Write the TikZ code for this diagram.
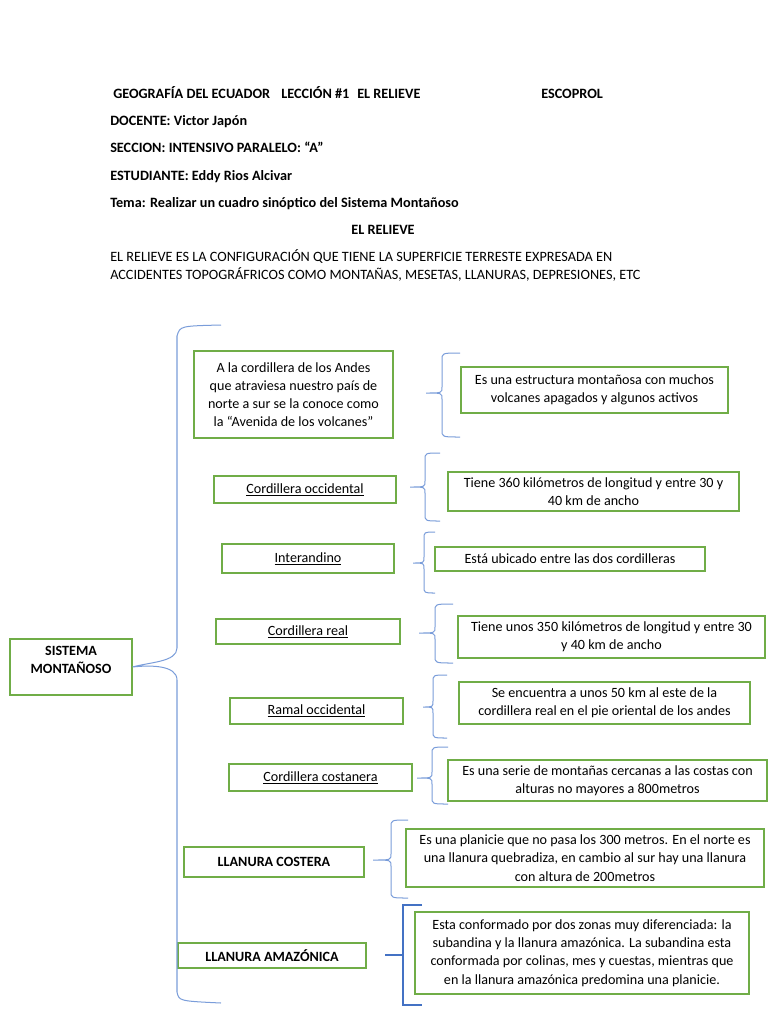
\documentclass[tikz,border=0pt]{standalone}
\usepackage{fontspec}
\setmainfont{Carlito}
\definecolor{boxgreen}{HTML}{70AD47}
\definecolor{braceblue}{HTML}{7A9DDA}
\definecolor{sqblue}{HTML}{4472C4}
\newcommand\mybox[7]{%
  \node[gb,#1,minimum width={(#5-#3)*0.797pt},minimum height={(#6-#4)*0.797pt}] (#2) at ({(#3+#5)/2},{(#4+#6)/2}) {#7};}
\newcommand\mybrace[7]{% name tx ty vx yt yb ex
  \coordinate (#1tip) at (#2,#3);
  \coordinate (#1top) at (#7,#5);
  \coordinate (#1bot) at (#7,#6);
  \draw[br] (#1top) .. controls (#4,#5) .. (#4,{#5+7}) -- (#4,{#3-6}) .. controls (#4,#3) .. (#1tip)
     .. controls (#4,#3) .. (#4,{#3+6}) -- (#4,{#6-7}) .. controls (#4,#6) .. (#1bot);}
\begin{document}
\begin{tikzpicture}[x=0.797pt,y=-0.797pt,
  gb/.style={draw=boxgreen,line width=0.9pt,inner sep=0pt,align=center,font=\fontsize{11.25}{14.5}\selectfont},
  gbt/.style={line width=1.5pt},
  bf/.style={font=\fontsize{11.25}{14.5}\selectfont\bfseries},
  br/.style={draw=braceblue,line width=0.8pt},
  sq/.style={draw=sqblue,line width=1pt},
  hd/.style={anchor=base west,inner sep=0pt,font=\fontsize{11.35}{14}\selectfont\bfseries},
  pr/.style={anchor=base west,inner sep=0pt,font=\fontsize{11.35}{14}\selectfont}]
\useasboundingbox (0,0) rectangle (768,1024);
\fill[white] (0,0) rectangle (768,1024);

% header
\node[hd] (h1) at (113,98) {GEOGRAFÍA DEL ECUADOR};
\node[hd] (h2) at (281,98) {LECCIÓN \#1};
\node[hd] (h3) at (357,98) {EL RELIEVE};
\node[hd] (h4) at (541,98) {ESCOPROL};
\node[hd] (h5) at (110,125) {DOCENTE: Victor Japón};
\node[hd] (h6) at (110,152) {SECCION: INTENSIVO PARALELO: “A”};
\node[hd] (h7) at (110,180) {ESTUDIANTE: Eddy Rios Alcivar};
\node[hd] (h8) at (110,207) {Tema: Realizar un cuadro sinóptico del Sistema Montañoso};
\node[hd,anchor=base] (h9) at (383,234) {EL RELIEVE};
\node[pr] (p1) at (110,261) {EL RELIEVE ES LA CONFIGURACIÓN QUE TIENE LA SUPERFICIE TERRESTE EXPRESADA EN};
\node[pr] (p2) at (110,279) {ACCIDENTES TOPOGRÁFRICOS COMO MONTAÑAS, MESETAS, LLANURAS, DEPRESIONES, ETC};

% root
\mybox{bf,text depth=12pt}{S}{10}{639}{132}{695}{SISTEMA\\MONTAÑOSO}

% left boxes
\mybox{gbt}{A}{194}{351}{393}{438}{A la cordillera de los Andes\\que atraviesa nuestro país de\\norte a sur se la conoce como\\la “Avenida de los volcanes”}
\mybox{gbt}{B}{214}{476}{396}{503}{\underline{Cordillera occidental}}
\mybox{}{C}{222}{544}{394}{573}{\underline{Interandino}}
\mybox{}{D}{216}{619}{400}{644}{\underline{Cordillera real}}
\mybox{gbt}{E}{230}{698}{403}{724}{\underline{Ramal occidental}}
\mybox{}{F}{229}{764}{412}{791}{\underline{Cordillera costanera}}
\mybox{gbt,bf}{G}{184}{847}{364}{877}{LLANURA COSTERA}
\mybox{bf}{H}{178}{943}{366}{968}{LLANURA AMAZÓNICA}

% right boxes
\mybox{}{A2}{461}{367}{728}{413}{Es una estructura montañosa con muchos\\volcanes apagados y algunos activos}
\mybox{}{B2}{448}{472}{739}{511}{Tiene 360 kilómetros de longitud y entre 30 y\\40 km de ancho}
\mybox{}{C2}{435}{547}{705}{571}{Está ubicado entre las dos cordilleras}
\mybox{}{D2}{458}{616}{765}{658}{Tiene unos 350 kilómetros de longitud y entre 30\\y 40 km de ancho}
\mybox{}{E2}{459}{682}{750}{724}{Se encuentra a unos 50 km al este de la\\cordillera real en el pie oriental de los andes}
\mybox{}{F2}{448}{760}{767}{801}{Es una serie de montañas cercanas a las costas con\\alturas no mayores a 800metros}
\mybox{}{G2}{406}{829}{764}{887}{Es una planicie que no pasa los 300 metros. En el norte es\\una llanura quebradiza, en cambio al sur hay una llanura\\con altura de 200metros}
\mybox{gbt}{H2}{415}{912}{749}{994}{Esta conformado por dos zonas muy diferenciada: la\\subandina y la llanura amazónica. La subandina esta\\conformada por colinas, mes y cuestas, mientras que\\en la llanura amazónica predomina una planicie.}

% big brace
\coordinate (Rtop) at (221,325);
\coordinate (Rbot) at (221,1003);
\draw[br] (Rtop) .. controls (180,326) .. (177,336) -- (177,648) .. controls (177,662) and (150,662) .. (S.east)
   .. controls (150,665) and (177,665) .. (177,680) -- (177,992) .. controls (179,1001) .. (Rbot);

% small braces
\mybrace{b1}{426}{393}{442}{353}{437}{460}
\mybrace{b2}{410}{487}{425}{453}{521}{440}
\mybrace{b3}{413}{563}{424}{532}{593}{435}
\mybrace{b4}{419}{633}{435}{604}{663}{453}
\mybrace{b5}{423}{707}{433}{675}{738}{447}
\mybrace{b6}{417}{778}{432}{747}{804}{448}
\mybrace{b7}{373}{860}{391}{820}{898}{408}

% square bracket
\coordinate (qtip) at (385,955);
\coordinate (qtop) at (422,905);
\coordinate (qbot) at (422,1005);
\draw[sq] (qtip) -- (403,955);
\draw[sq] (qtop) -- (403,905) -- (403,1005) -- (qbot);
\end{tikzpicture}
\end{document}
